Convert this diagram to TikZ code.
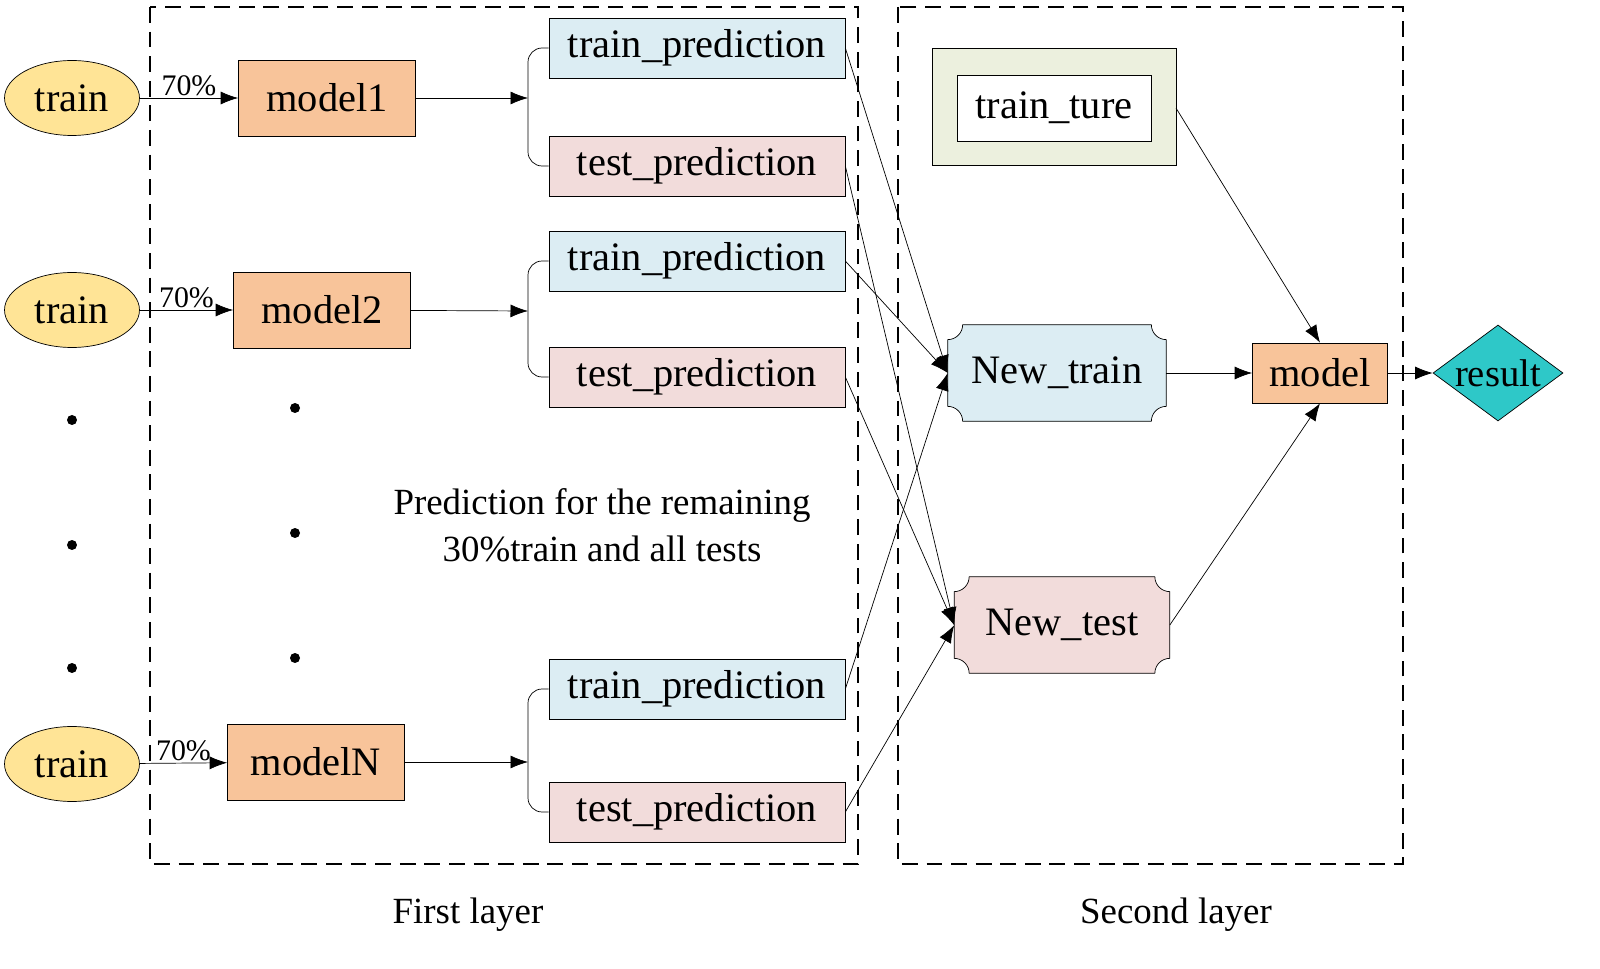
\documentclass[tikz,border=0pt]{standalone}
\usepackage{fontspec}
\setmainfont{Liberation Serif}
\usepackage{tikz}
\usetikzlibrary{positioning, shapes.geometric, calc, arrows.meta}
\definecolor{train_yellow}{RGB}{255,228,150}
\definecolor{model_orange}{RGB}{248,196,154}
\definecolor{pred_blue}{RGB}{220,237,243}
\definecolor{pred_pink}{RGB}{242,220,219}
\definecolor{ture_green}{RGB}{236,240,222}
\definecolor{result_teal}{RGB}{46,200,200}
\tikzstyle{data} = [ellipse, draw, fill=train_yellow, minimum width=2.7cm, minimum height=1.5cm, font=\fontsize{23}{26}\selectfont]
\tikzstyle{block} = [rectangle, draw, fill=model_orange, minimum width=3.54cm, minimum height=1.52cm, font=\fontsize{23}{26}\selectfont]
\tikzstyle{pred} = [rectangle, draw, minimum width=5.92cm, minimum height=1.2cm, font=\fontsize{23}{26}\selectfont]
\tikzstyle{layer} = [dash pattern=on 9pt off 5pt, line width=0.9pt]
\tikzstyle{arrow} = [-{Latex[length=3.5mm, width=2.6mm]}]
\tikzstyle{dot} = [circle, fill, inner sep=0pt, minimum size=0.2cm]
\newcommand{\notchbox}[2]{% concave-corner frame around a node
  \draw[fill=#2] ($(#1.north west)+(0.3cm,0)$) -- ($(#1.north east)-(0.3cm,0)$)
    arc[start angle=180, end angle=270, radius=0.3cm] -- ($(#1.south east)+(0,0.3cm)$)
    arc[start angle=90, end angle=180, radius=0.3cm] -- ($(#1.south west)+(0.3cm,0)$)
    arc[start angle=0, end angle=90, radius=0.3cm] -- ($(#1.north west)-(0,0.3cm)$)
    arc[start angle=270, end angle=360, radius=0.3cm] -- cycle;}

\begin{document}
\begin{tikzpicture}[x=0.02cm, y=-0.02cm]

    \useasboundingbox (0,0) rectangle (1600,969);

    % layers
    \draw[layer] (150,7) rectangle (858,864);
    \draw[layer] (898,7) rectangle (1403,864);
    \node[font=\fontsize{21}{24}\selectfont] (first) at (468,915) {First layer};
    \node[font=\fontsize{21}{24}\selectfont] (second) at (1176,915) {Second layer};

    % first layer
    \node[data] (train1) at (72,98) {train};
    \node[data] (train2) at (72,310) {train};
    \node[data] (trainN) at (72,764) {train};
    \node[block] (model1) at (327,98) {model1};
    \node[block] (model2) at (322,310) {model2};
    \node[block] (modelN) at (316,762) {modelN};

    \foreach \y in {420,545,668} \node[dot] at (72,\y) {};
    \foreach \y in {408,533,658} \node[dot] at (295,\y) {};

    \draw[arrow] (train1) -- node[above, font=\fontsize{17}{18}\selectfont, inner sep=1pt] {70\%} (model1);
    \draw[arrow] (train2) -- node[above, font=\fontsize{17}{18}\selectfont, inner sep=1pt] {70\%} (model2);
    \draw[arrow] (trainN) -- node[above, font=\fontsize{17}{18}\selectfont, inner sep=1pt] {70\%} (modelN);

    \node[pred, fill=pred_blue] (trp1) at (697,48) {train\_prediction};
    \node[pred, fill=pred_pink] (tsp1) at (697,166) {test\_prediction};
    \node[pred, fill=pred_blue] (trp2) at (697,261) {train\_prediction};
    \node[pred, fill=pred_pink] (tsp2) at (697,377) {test\_prediction};
    \node[pred, fill=pred_blue] (trp3) at (697,689) {train\_prediction};
    \node[pred, fill=pred_pink] (tsp3) at (697,812) {test\_prediction};

    \coordinate (b1) at (528,98);
    \coordinate (b2) at (528,311);
    \coordinate (b3) at (528,762);
    \draw[arrow] (model1) -- (b1);
    \draw[arrow] (model2) -- (b2);
    \draw[arrow] (modelN) -- (b3);
    \draw[rounded corners=8pt] (trp1.west) -| (b1) |- (tsp1.west);
    \draw[rounded corners=8pt] (trp2.west) -| (b2) |- (tsp2.west);
    \draw[rounded corners=8pt] (trp3.west) -| (b3) |- (tsp3.west);

    \node[font=\fontsize{21}{27}\selectfont, align=center] (note) at (602,525)
        {Prediction for the remaining\\30\%train and all tests};

    % second layer
    \draw[fill=ture_green] (932,48) rectangle (1176,165);
    \node[draw, fill=white, minimum width=3.88cm, minimum height=1.32cm,
          font=\fontsize{23}{26}\selectfont] (ture) at (1054,108) {train\_ture};

    \node[minimum width=4.36cm, minimum height=1.92cm] (newtrain) at (1057,373) {};
    \notchbox{newtrain}{pred_blue}
    \node[font=\fontsize{23}{26}\selectfont] at (newtrain) {New\_train};
    \node[minimum width=4.3cm, minimum height=1.92cm] (newtest) at (1062,625) {};
    \notchbox{newtest}{pred_pink}
    \node[font=\fontsize{23}{26}\selectfont] at (newtest) {New\_test};

    \node[block, minimum width=2.7cm, minimum height=1.2cm] (model) at (1320,373) {model};
    \node[diamond, draw, fill=result_teal, aspect=1.35, minimum width=2.6cm, minimum height=1.92cm,
          inner sep=-2pt, font=\fontsize{22}{26}\selectfont] (result) at (1498,373) {result};

    \draw[arrow] (trp1.east) -- ($(newtrain.west)+(0,-0.25)$);
    \draw[arrow] (trp2.east) -- ($(newtrain.west)+(0,-0.1)$);
    \draw[arrow] (trp3.east) -- ($(newtrain.west)+(0,0.1)$);
    \draw[arrow] (tsp1.east) -- ($(newtest.west)+(0,-0.1)$);
    \draw[arrow] (tsp2.east) -- ($(newtest.west)+(0,0.1)$);
    \draw[arrow] (tsp3.east) -- ($(newtest.west)+(0,0.3)$);

    \draw[arrow] (1176,108) -- (model.north);
    \draw[arrow] (newtrain) -- (model);
    \draw[arrow] (newtest.east) -- (model.south);
    \draw[arrow] (model) -- (result);

\end{tikzpicture}
\end{document}
